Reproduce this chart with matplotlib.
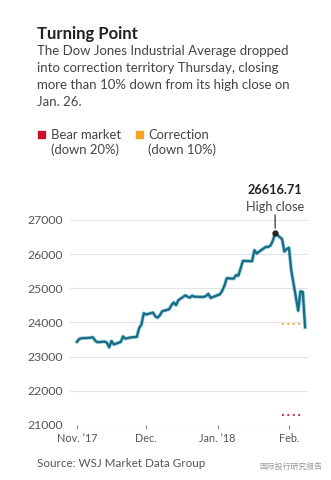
import matplotlib.pyplot as plt
import matplotlib.patheffects as pe
import pandas as pd

plt.rcParams['font.family'] = ['Lato', 'DejaVu Sans']

# Dow Jones Industrial Average daily closes
dates = ['2017-11-01', '2017-11-02', '2017-11-03', '2017-11-06', '2017-11-07',
         '2017-11-08', '2017-11-09', '2017-11-10', '2017-11-13', '2017-11-14',
         '2017-11-15', '2017-11-16', '2017-11-17', '2017-11-20', '2017-11-21',
         '2017-11-22', '2017-11-24', '2017-11-27', '2017-11-28', '2017-11-29',
         '2017-11-30', '2017-12-01', '2017-12-04', '2017-12-05', '2017-12-06',
         '2017-12-07', '2017-12-08', '2017-12-11', '2017-12-12', '2017-12-13',
         '2017-12-14', '2017-12-15', '2017-12-18', '2017-12-19', '2017-12-20',
         '2017-12-21', '2017-12-22', '2017-12-26', '2017-12-27', '2017-12-28',
         '2017-12-29', '2018-01-02', '2018-01-03', '2018-01-04', '2018-01-05',
         '2018-01-08', '2018-01-09', '2018-01-10', '2018-01-11', '2018-01-12',
         '2018-01-16', '2018-01-17', '2018-01-18', '2018-01-19', '2018-01-22',
         '2018-01-23', '2018-01-24', '2018-01-25', '2018-01-26', '2018-01-29',
         '2018-01-30', '2018-01-31', '2018-02-01', '2018-02-02', '2018-02-05',
         '2018-02-06', '2018-02-07', '2018-02-08']
closes = [23435, 23516, 23539, 23548, 23557,
          23563, 23462, 23422, 23440, 23409,
          23271, 23458, 23358, 23430, 23591,
          23526, 23558, 23581, 23837, 23941,
          24272, 24232, 24290, 24181, 24141,
          24211, 24329, 24386, 24505, 24585,
          24509, 24652, 24792, 24755, 24727,
          24782, 24754, 24746, 24774, 24838,
          24719, 24824, 24923, 25075, 25296,
          25283, 25386, 25369, 25575, 25803,
          25793, 26116, 26018, 26072, 26215,
          26211, 26252, 26393, 26616.71, 26439,
          26077, 26149, 26187, 25521, 24346,
          24913, 24893, 23860]

high_date = '2018-01-26'
high_value = 26616.71
level_dates = ['2018-01-29', '2018-02-07']
correction_level = high_value * 0.9
bear_level = high_value * 0.8

yticks = [21000, 22000, 23000, 24000, 25000, 26000, 27000]
month_ticks = ['2017-11-01', '2017-12-01', '2018-01-01', '2018-02-01']
month_labels = ['Nov. \u201917', 'Dec.', 'Jan. \u201918', 'Feb.']

x = pd.to_datetime(dates)
lx = pd.to_datetime(level_dates)

fig = plt.figure(figsize=(3.31, 4.8), dpi=100)
fig.patch.set_facecolor('white')
ax = fig.add_axes([0.2115, 0.1146, 0.719, 0.4271])

ax.plot(x, closes, color='#1b6d85', linewidth=1.7, solid_joinstyle='round',
        path_effects=[pe.Stroke(linewidth=2.8, foreground='#a9dbe8'), pe.Normal()],
        zorder=3)
ax.plot(lx, [correction_level] * 2, color='#f2a51f', linestyle=(0, (1, 2)),
        linewidth=1.3, zorder=2)
ax.plot(lx, [bear_level] * 2, color='#c8102e', linestyle=(0, (1, 2)),
        linewidth=1.3, zorder=2)

# high close marker and label
hx = pd.Timestamp(high_date)
ax.plot([hx], [high_value], 'o', color='#222222', markersize=3.5, zorder=4)
ax.annotate('', xy=(hx, high_value + 60), xytext=(hx, 27230),
            arrowprops=dict(arrowstyle='-', color='#333333', lw=0.9),
            annotation_clip=False)
ax.text(hx, 27880, f'{high_value:.2f}', ha='center', va='center',
        fontsize=9.2, fontweight='bold', color='#222222')
ax.text(hx, 27370, 'High close', ha='center', va='center',
        fontsize=9.2, color='#444444')

ax.set_ylim(21000, 27000)
ax.set_xlim(pd.Timestamp('2017-10-29'), pd.Timestamp('2018-02-09 06:00'))
ax.set_yticks(yticks)
ax.set_yticklabels([str(v) for v in yticks])
ax.set_xticks(pd.to_datetime(month_ticks))
ax.set_xticklabels(month_labels)

for s in ax.spines.values():
    s.set_visible(False)
ax.grid(axis='y', color='#e3e3e3', linewidth=0.8)
ax.set_axisbelow(True)
ax.tick_params(axis='y', length=0, labelsize=8.8, labelcolor='#555555', pad=6)
ax.tick_params(axis='x', length=3, width=0.8, color='#888888', labelsize=7.8,
               labelcolor='#555555', pad=3, direction='out')
for lbl in ax.get_yticklabels():
    lbl.set_horizontalalignment('left')
    lbl.set_x(-0.145)

# header
fig.text(0.112, 0.93, 'Turning Point', fontsize=12, fontweight='bold',
         color='#222222', va='center')
subtitle = ('The Dow Jones Industrial Average dropped\n'
            'into correction territory Thursday, closing\n'
            'more than 10% down from its high close on\n'
            'Jan. 26.')
fig.text(0.112, 0.906, subtitle, fontsize=9.5, color='#444444', va='top',
         linespacing=1.5)

# legend
fig.patches.append(plt.Rectangle((0.115, 0.712), 0.021, 0.0145,
                                 transform=fig.transFigure, color='#c8102e'))
fig.text(0.153, 0.731, 'Bear market\n(down 20%)', fontsize=9.4, color='#444444',
         va='top', linespacing=1.25)
fig.patches.append(plt.Rectangle((0.411, 0.712), 0.021, 0.0145,
                                 transform=fig.transFigure, color='#f2a51f'))
fig.text(0.447, 0.731, 'Correction\n(down 10%)', fontsize=9.4, color='#444444',
         va='top', linespacing=1.25)

# footer
fig.text(0.112, 0.034, 'Source: WSJ Market Data Group', fontsize=8.4,
         color='#555555', va='center')
fig.text(0.785, 0.029, '国际投行研究报告', fontsize=5.7, color='#999999',
         va='center', family=['Noto Sans CJK SC', 'DejaVu Sans'])

fig.savefig('out.png', dpi=100, facecolor='white')
